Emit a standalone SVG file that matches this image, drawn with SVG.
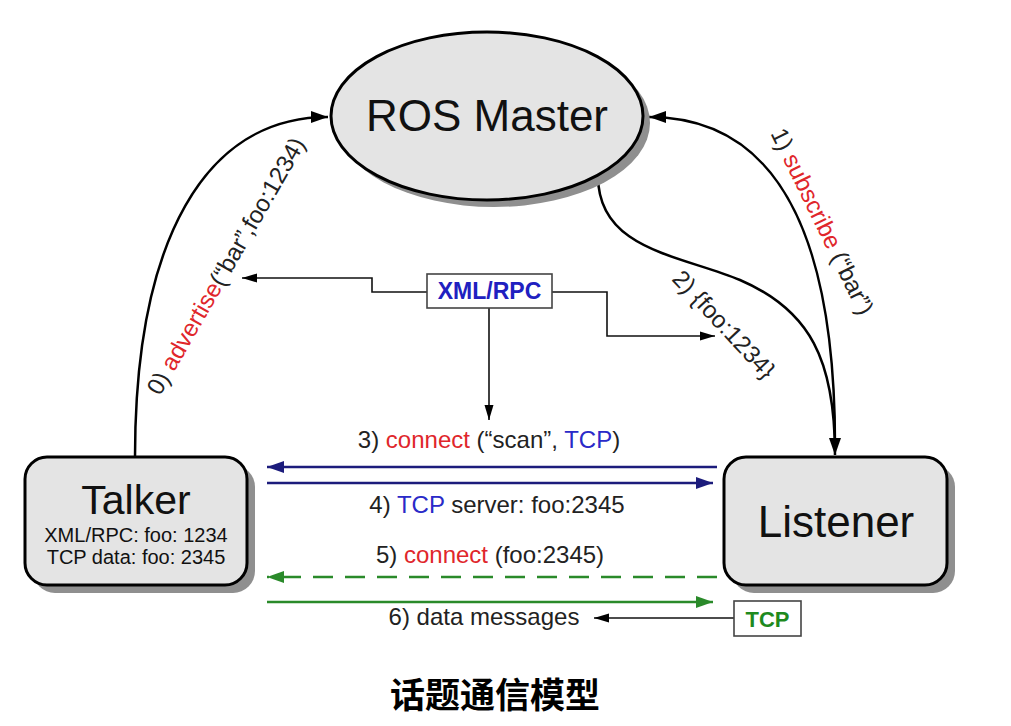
<svg xmlns="http://www.w3.org/2000/svg" width="1011" height="726" viewBox="0 0 1011 726">
<style>
text{font-family:"Liberation Sans",Arial,sans-serif;}
.node{fill:#e4e4e4;stroke:#000;stroke-width:3;}
.shadow{fill:#8f8f8f;}
.lbl{font-size:24px;fill:#222;}
.red{fill:#e0262b;}
.blue{fill:#2a2ac8;}
.curve{fill:none;stroke:#000;stroke-width:2.5;}
.thin{fill:none;stroke:#111;stroke-width:1.6;}
.navy{fill:none;stroke:#1c1c7c;stroke-width:2.6;}
.green{fill:none;stroke:#2a8a2a;stroke-width:2.6;}
.tag{fill:#fff;stroke:#444;stroke-width:1.6;}
</style>
<defs>
<marker id="ahBlack" markerUnits="userSpaceOnUse" markerWidth="18" markerHeight="14" refX="17" refY="7" orient="auto"><path d="M0,1 L17,7 L0,13 z" fill="#000"/></marker>
<marker id="ahSmall" markerUnits="userSpaceOnUse" markerWidth="16" markerHeight="10" refX="15" refY="5" orient="auto"><path d="M0,0.5 L15,5 L0,9.5 z" fill="#000"/></marker>
<marker id="ahNavy" markerUnits="userSpaceOnUse" markerWidth="18" markerHeight="14" refX="17" refY="7" orient="auto"><path d="M0,1 L17,7 L0,13 z" fill="#1c1c7c"/></marker>
<marker id="ahGreen" markerUnits="userSpaceOnUse" markerWidth="18" markerHeight="14" refX="17" refY="7" orient="auto"><path d="M0,1 L17,7 L0,13 z" fill="#2a8a2a"/></marker>
</defs>
<rect width="1011" height="726" fill="#fff"/>

<g id="connectors">
  <path class="curve" d="M135,457 C135,240 205,117 328,117" marker-end="url(#ahBlack)"/>
  <path class="curve" d="M835,445 C835,260 790,117 649,117" marker-end="url(#ahBlack)"/>
  <path class="curve" d="M598,176 C598,250 680,255 740,280 C810,310 835,360 835,455" marker-end="url(#ahBlack)"/>
  <path class="thin" d="M427,292 H372 V278 H242" marker-end="url(#ahSmall)"/>
  <path class="thin" d="M552,292 H607 V336 H715" marker-end="url(#ahSmall)"/>
  <path class="thin" d="M489,308 V420" marker-end="url(#ahSmall)"/>
  <path class="navy" d="M717,467 H267" marker-end="url(#ahNavy)"/>
  <path class="navy" d="M267,483 H713" marker-end="url(#ahNavy)"/>
  <path class="green" d="M717,577 H267" stroke-dasharray="20,12" marker-end="url(#ahGreen)"/>
  <path class="green" d="M267,602 H713" marker-end="url(#ahGreen)"/>
  <path class="thin" d="M734,618 H594" marker-end="url(#ahSmall)"/>

  <text class="lbl" text-anchor="middle" transform="translate(233,270) rotate(-60)">0) <tspan class="red">advertise</tspan>(“bar”,foo:1234)</text>
  <text class="lbl" text-anchor="middle" transform="translate(815,225) rotate(64)">1) <tspan class="red">subscribe</tspan> (“bar”)</text>
  <text class="lbl" text-anchor="middle" transform="translate(718,330) rotate(47)">2) {foo:1234}</text>
  <text class="lbl" x="489" y="448" text-anchor="middle">3) <tspan class="red">connect</tspan> (“scan”, <tspan class="blue">TCP</tspan>)</text>
  <text class="lbl" x="497" y="513" text-anchor="middle">4) <tspan class="blue">TCP</tspan> server: foo:2345</text>
  <text class="lbl" x="490" y="563" text-anchor="middle">5) <tspan class="red">connect</tspan> (foo:2345)</text>
  <text class="lbl" x="484" y="625" text-anchor="middle">6) data messages</text>
</g>

<g id="ros-master">
  <ellipse class="shadow" cx="494" cy="123" rx="156" ry="84"/>
  <ellipse class="node" cx="487" cy="116" rx="156" ry="84" stroke-width="2.6"/>
  <text x="487" y="131" text-anchor="middle" font-size="44" fill="#111">ROS Master</text>
</g>

<g id="talker">
  <rect class="shadow" x="33" y="465" width="222" height="128" rx="22"/>
  <rect class="node" x="25" y="457" width="222" height="128" rx="22"/>
  <text x="136" y="514" text-anchor="middle" font-size="41" fill="#111">Talker</text>
  <text x="136" y="542" text-anchor="middle" font-size="20" fill="#111">XML/RPC: foo: 1234</text>
  <text x="136" y="564" text-anchor="middle" font-size="20" fill="#111">TCP data: foo: 2345</text>
</g>

<g id="listener">
  <rect class="shadow" x="732" y="465" width="223" height="128" rx="22"/>
  <rect class="node" x="724" y="457" width="223" height="128" rx="22"/>
  <text x="836" y="537" text-anchor="middle" font-size="44" fill="#111">Listener</text>
</g>

<g id="xmlrpc">
  <rect class="tag" x="427" y="274" width="125" height="34"/>
  <text x="489.5" y="299" text-anchor="middle" font-size="23" font-weight="bold" fill="#2020c0">XML/RPC</text>
</g>

<g id="tcp">
  <rect class="tag" x="734" y="601" width="67" height="35"/>
  <text x="767.5" y="627" text-anchor="middle" font-size="22" font-weight="bold" fill="#1e8a1e">TCP</text>
</g>

<text x="495" y="708" text-anchor="middle" font-size="35" font-weight="bold" fill="#000" style="font-family:'Noto Sans CJK SC','Liberation Sans',sans-serif">话题通信模型</text>
</svg>
